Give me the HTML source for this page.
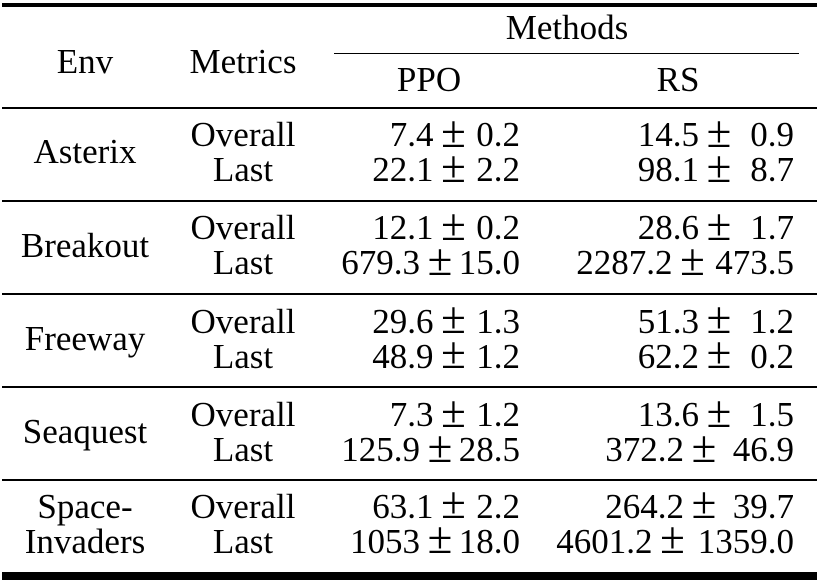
<!DOCTYPE html>
<html><head><meta charset="utf-8">
<style>
html,body{margin:0;padding:0;background:#fff;}
body{width:822px;height:582px;position:relative;overflow:hidden;font-family:"Liberation Serif","DejaVu Serif",serif;color:#000;}
.t{position:absolute;font-size:35px;line-height:40px;height:40px;white-space:nowrap;}
.c{width:300px;text-align:center;}
.r{width:200px;text-align:right;}
.p{position:absolute;width:40px;text-align:center;font-size:45px;line-height:40px;height:40px;white-space:nowrap;}
.rule{position:absolute;background:#000;}
</style></head><body>
<!-- rules -->
<div class="rule" style="left:2px;width:815px;top:3px;height:4px;"></div>
<div class="rule" style="left:334px;width:465px;top:52.5px;height:1.5px;"></div>
<div class="rule" style="left:2px;width:815px;top:107px;height:2px;"></div>
<div class="rule" style="left:2px;width:815px;top:200px;height:2px;"></div>
<div class="rule" style="left:2px;width:815px;top:293px;height:2px;"></div>
<div class="rule" style="left:2px;width:815px;top:386px;height:2px;"></div>
<div class="rule" style="left:2px;width:815px;top:479px;height:2px;"></div>
<div class="rule" style="left:2px;width:815px;top:572px;height:8px;"></div>

<!-- header -->
<div class="t c" style="left:417px;top:8.2px;">Methods</div>
<div class="t c" style="left:-65px;top:42.2px;">Env</div>
<div class="t c" style="left:93px;top:42.2px;">Metrics</div>
<div class="t c" style="left:279px;top:59.7px;">PPO</div>
<div class="t c" style="left:528px;top:59.7px;">RS</div>

<!-- env labels -->
<div class="t c" style="left:-65px;top:132.4px;">Asterix</div>
<div class="t c" style="left:-65px;top:225.7px;">Breakout</div>
<div class="t c" style="left:-65px;top:319px;">Freeway</div>
<div class="t c" style="left:-65px;top:412.4px;">Seaquest</div>
<div class="t c" style="left:-65px;top:486.5px;">Space-</div>
<div class="t c" style="left:-65px;top:521.5px;">Invaders</div>

<!-- metrics -->
<div class="t c" style="left:93px;top:114.9px;">Overall</div>
<div class="t c" style="left:93px;top:149.9px;">Last</div>
<div class="t c" style="left:93px;top:208.2px;">Overall</div>
<div class="t c" style="left:93px;top:243.2px;">Last</div>
<div class="t c" style="left:93px;top:301.5px;">Overall</div>
<div class="t c" style="left:93px;top:336.5px;">Last</div>
<div class="t c" style="left:93px;top:394.9px;">Overall</div>
<div class="t c" style="left:93px;top:429.9px;">Last</div>
<div class="t c" style="left:93px;top:486.5px;">Overall</div>
<div class="t c" style="left:93px;top:521.5px;">Last</div>

<!-- PPO column -->
<div class="t r" style="left:233.5px;top:114.9px;">7.4</div><div class="p" style="left:433.5px;top:111.6px;">±</div><div class="t r" style="left:320px;top:114.9px;">0.2</div>
<div class="t r" style="left:233.5px;top:149.9px;">22.1</div><div class="p" style="left:433.5px;top:146.6px;">±</div><div class="t r" style="left:320px;top:149.9px;">2.2</div>
<div class="t r" style="left:233.5px;top:208.2px;">12.1</div><div class="p" style="left:433.5px;top:204.9px;">±</div><div class="t r" style="left:320px;top:208.2px;">0.2</div>
<div class="t r" style="left:220px;top:243.2px;">679.3</div><div class="p" style="left:420px;top:239.9px;">±</div><div class="t r" style="left:320px;top:243.2px;">15.0</div>
<div class="t r" style="left:233.5px;top:301.5px;">29.6</div><div class="p" style="left:433.5px;top:298.2px;">±</div><div class="t r" style="left:320px;top:301.5px;">1.3</div>
<div class="t r" style="left:233.5px;top:336.5px;">48.9</div><div class="p" style="left:433.5px;top:333.2px;">±</div><div class="t r" style="left:320px;top:336.5px;">1.2</div>
<div class="t r" style="left:233.5px;top:394.9px;">7.3</div><div class="p" style="left:433.5px;top:391.6px;">±</div><div class="t r" style="left:320px;top:394.9px;">1.2</div>
<div class="t r" style="left:220px;top:429.9px;">125.9</div><div class="p" style="left:420px;top:426.6px;">±</div><div class="t r" style="left:320px;top:429.9px;">28.5</div>
<div class="t r" style="left:233.5px;top:486.5px;">63.1</div><div class="p" style="left:433.5px;top:483.2px;">±</div><div class="t r" style="left:320px;top:486.5px;">2.2</div>
<div class="t r" style="left:220px;top:521.5px;">1053</div><div class="p" style="left:420px;top:518.2px;">±</div><div class="t r" style="left:320px;top:521.5px;">18.0</div>

<!-- RS column -->
<div class="t r" style="left:499px;top:114.9px;">14.5</div><div class="p" style="left:699px;top:111.6px;">±</div><div class="t r" style="left:594px;top:114.9px;">0.9</div>
<div class="t r" style="left:499px;top:149.9px;">98.1</div><div class="p" style="left:699px;top:146.6px;">±</div><div class="t r" style="left:594px;top:149.9px;">8.7</div>
<div class="t r" style="left:499px;top:208.2px;">28.6</div><div class="p" style="left:699px;top:204.9px;">±</div><div class="t r" style="left:594px;top:208.2px;">1.7</div>
<div class="t r" style="left:472.5px;top:243.2px;">2287.2</div><div class="p" style="left:672.5px;top:239.9px;">±</div><div class="t r" style="left:594px;top:243.2px;">473.5</div>
<div class="t r" style="left:499px;top:301.5px;">51.3</div><div class="p" style="left:699px;top:298.2px;">±</div><div class="t r" style="left:594px;top:301.5px;">1.2</div>
<div class="t r" style="left:499px;top:336.5px;">62.2</div><div class="p" style="left:699px;top:333.2px;">±</div><div class="t r" style="left:594px;top:336.5px;">0.2</div>
<div class="t r" style="left:499px;top:394.9px;">13.6</div><div class="p" style="left:699px;top:391.6px;">±</div><div class="t r" style="left:594px;top:394.9px;">1.5</div>
<div class="t r" style="left:484px;top:429.9px;">372.2</div><div class="p" style="left:684px;top:426.6px;">±</div><div class="t r" style="left:594px;top:429.9px;">46.9</div>
<div class="t r" style="left:484px;top:486.5px;">264.2</div><div class="p" style="left:684px;top:483.2px;">±</div><div class="t r" style="left:594px;top:486.5px;">39.7</div>
<div class="t r" style="left:452.5px;top:521.5px;">4601.2</div><div class="p" style="left:652.5px;top:518.2px;">±</div><div class="t r" style="left:594px;top:521.5px;">1359.0</div>
</body></html>
